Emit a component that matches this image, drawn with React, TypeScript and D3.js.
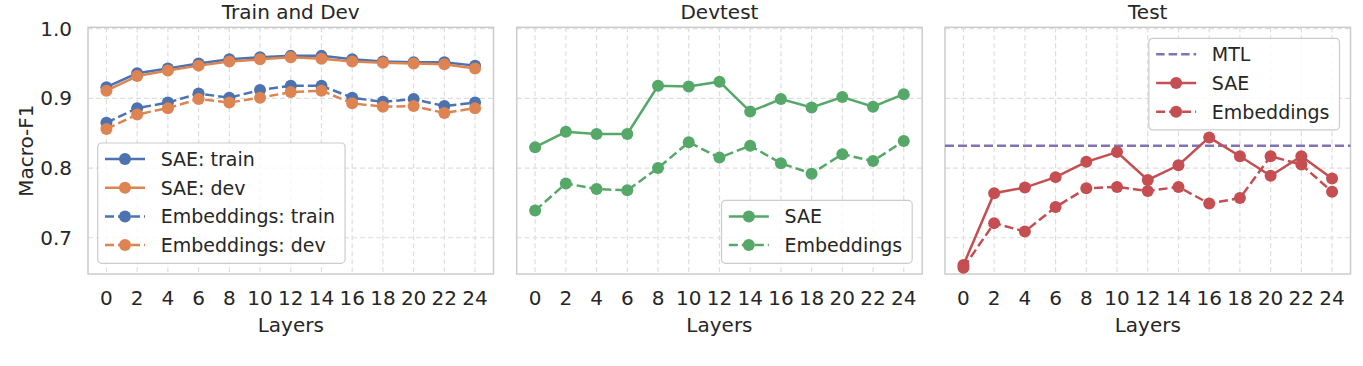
import { useEffect, useRef } from 'react';
import * as d3 from 'd3';

const layers = [0, 2, 4, 6, 8, 10, 12, 14, 16, 18, 20, 22, 24];
const yTicks = [0.7, 0.8, 0.9, 1.0];

// Train and Dev
const saeTrain = [0.916, 0.936, 0.943, 0.95, 0.956, 0.959, 0.961, 0.961, 0.956, 0.953, 0.952, 0.952, 0.947];
const saeDev = [0.911, 0.932, 0.94, 0.947, 0.953, 0.956, 0.959, 0.957, 0.953, 0.951, 0.95, 0.949, 0.943];
const embTrain = [0.865, 0.886, 0.894, 0.907, 0.901, 0.912, 0.918, 0.918, 0.901, 0.895, 0.899, 0.889, 0.894];
const embDev = [0.856, 0.877, 0.886, 0.899, 0.894, 0.901, 0.909, 0.911, 0.893, 0.888, 0.889, 0.879, 0.886];

// Devtest
const devtestSae = [0.83, 0.852, 0.849, 0.849, 0.918, 0.917, 0.924, 0.881, 0.899, 0.887, 0.902, 0.888, 0.906];
const devtestEmb = [0.739, 0.778, 0.77, 0.768, 0.8, 0.837, 0.815, 0.832, 0.807, 0.792, 0.82, 0.81, 0.839];

// Test
const testMtl = 0.832;
const testSae = [0.661, 0.764, 0.772, 0.787, 0.809, 0.823, 0.783, 0.804, 0.844, 0.817, 0.789, 0.817, 0.785];
const testEmb = [0.657, 0.721, 0.709, 0.744, 0.771, 0.773, 0.767, 0.773, 0.749, 0.757, 0.817, 0.805, 0.766];

const BLUE = '#4C72B0';
const ORANGE = '#DD8452';
const GREEN = '#55A868';
const RED = '#C44E52';
const PURPLE = '#8172B3';
const TEXT = '#262626';
const FONT = '"DejaVu Sans", sans-serif';

type Series = { label: string; values?: number[]; constant?: number; color: string; dashed: boolean; marker: boolean };
type Panel = { title: string; series: Series[]; legend: 'lower left' | 'lower right' | 'upper right' };

const panels: Panel[] = [
  {
    title: 'Train and Dev',
    legend: 'lower left',
    series: [
      { label: 'SAE: train', values: saeTrain, color: BLUE, dashed: false, marker: true },
      { label: 'SAE: dev', values: saeDev, color: ORANGE, dashed: false, marker: true },
      { label: 'Embeddings: train', values: embTrain, color: BLUE, dashed: true, marker: true },
      { label: 'Embeddings: dev', values: embDev, color: ORANGE, dashed: true, marker: true }
    ]
  },
  {
    title: 'Devtest',
    legend: 'lower right',
    series: [
      { label: 'SAE', values: devtestSae, color: GREEN, dashed: false, marker: true },
      { label: 'Embeddings', values: devtestEmb, color: GREEN, dashed: true, marker: true }
    ]
  },
  {
    title: 'Test',
    legend: 'upper right',
    series: [
      { label: 'MTL', constant: testMtl, color: PURPLE, dashed: true, marker: false },
      { label: 'SAE', values: testSae, color: RED, dashed: false, marker: true },
      { label: 'Embeddings', values: testEmb, color: RED, dashed: true, marker: true }
    ]
  }
];

const App = () => {
  const ref = useRef<SVGSVGElement | null>(null);

  useEffect(() => {
    if (!ref.current) return;
    const svg = d3.select(ref.current);
    svg.selectAll('*').remove();

    const lefts = [88, 516.7, 945];
    const panelW = 405.5;
    const top = 27.3;
    const bottom = 274;
    const fontSize = 20;
    const legendFont = 19;

    const y = d3.scaleLinear().domain([0.648, 1.002]).range([bottom, top]);

    panels.forEach((panel, pi) => {
      const x = d3.scaleLinear().domain([-1.2, 25.2]).range([lefts[pi], lefts[pi] + panelW]);
      const g = svg.append('g');

      // grid
      layers.forEach((l) => {
        g.append('line')
          .attr('x1', x(l)).attr('x2', x(l)).attr('y1', top).attr('y2', bottom)
          .attr('stroke', '#dedede').attr('stroke-width', 1.2).attr('stroke-dasharray', '5,3');
      });
      yTicks.forEach((t) => {
        g.append('line')
          .attr('x1', x.range()[0]).attr('x2', x.range()[1]).attr('y1', y(t)).attr('y2', y(t))
          .attr('stroke', '#dedede').attr('stroke-width', 1.2).attr('stroke-dasharray', '5,3');
      });

      // frame
      g.append('rect')
        .attr('x', x.range()[0]).attr('y', top)
        .attr('width', panelW).attr('height', bottom - top)
        .attr('fill', 'none').attr('stroke', '#cccccc').attr('stroke-width', 1.5);

      // x tick labels
      layers.forEach((l) => {
        g.append('text')
          .attr('x', x(l)).attr('y', 305)
          .attr('text-anchor', 'middle')
          .style('font-family', FONT).style('font-size', `${fontSize}px`).attr('fill', TEXT)
          .text(String(l));
      });

      if (pi === 0) {
        yTicks.forEach((t) => {
          g.append('text')
            .attr('x', 72).attr('y', y(t) + 7)
            .attr('text-anchor', 'end')
            .style('font-family', FONT).style('font-size', `${fontSize}px`).attr('fill', TEXT)
            .text(d3.format('.1f')(t));
        });
        g.append('text')
          .attr('transform', `translate(32.5, ${(top + bottom) / 2}) rotate(-90)`)
          .attr('text-anchor', 'middle')
          .style('font-family', FONT).style('font-size', `${fontSize}px`).attr('fill', TEXT)
          .text('Macro-F1');
      }

      g.append('text')
        .attr('x', lefts[pi] + panelW / 2).attr('y', 332)
        .attr('text-anchor', 'middle')
        .style('font-family', FONT).style('font-size', `${fontSize}px`).attr('fill', TEXT)
        .text('Layers');

      g.append('text')
        .attr('x', lefts[pi] + panelW / 2).attr('y', 19)
        .attr('text-anchor', 'middle')
        .style('font-family', FONT).style('font-size', `${fontSize}px`).attr('fill', TEXT)
        .text(panel.title);

      // series
      const line = d3.line<number>().x((_, i) => x(layers[i])).y((d) => y(d));
      panel.series.forEach((s) => {
        if (s.constant !== undefined) {
          g.append('line')
            .attr('x1', x.range()[0]).attr('x2', x.range()[1])
            .attr('y1', y(s.constant)).attr('y2', y(s.constant))
            .attr('stroke', s.color).attr('stroke-width', 2.5)
            .attr('stroke-dasharray', '9,4');
          return;
        }
        const vals = s.values || [];
        g.append('path')
          .attr('d', line(vals) || '')
          .attr('fill', 'none').attr('stroke', s.color).attr('stroke-width', 2.5)
          .attr('stroke-dasharray', s.dashed ? '9,4' : null);
        vals.forEach((v, i) => {
          g.append('circle')
            .attr('cx', x(layers[i])).attr('cy', y(v)).attr('r', 6)
            .attr('fill', s.color);
        });
      });

      // legend
      const rowH = 28.7;
      const boxH = panel.series.length * rowH + 5.5;
      const leg = g.append('g');
      const box = leg.append('rect')
        .attr('rx', 4).attr('ry', 4)
        .attr('fill', 'white').attr('fill-opacity', 0.8)
        .attr('stroke', '#cccccc').attr('stroke-width', 1.2);
      let maxW = 0;
      const items = leg.append('g');
      panel.series.forEach((s, i) => {
        const cy = 16 + i * rowH;
        items.append('line')
          .attr('x1', 7.3).attr('x2', 47.3).attr('y1', cy).attr('y2', cy)
          .attr('stroke', s.color).attr('stroke-width', 2.5)
          .attr('stroke-dasharray', s.dashed ? (s.marker ? '9,4' : '8.5,4') : null);
        if (s.marker) {
          items.append('circle').attr('cx', 27.3).attr('cy', cy).attr('r', 6).attr('fill', s.color);
        }
        const t = items.append('text')
          .attr('x', 63).attr('y', cy + 7)
          .style('font-family', FONT).style('font-size', `${legendFont}px`).attr('fill', TEXT)
          .text(s.label);
        const node = t.node();
        const w = node ? node.getComputedTextLength() : 150;
        maxW = Math.max(maxW, w);
      });
      const boxW = 63 + maxW + 10;
      box.attr('width', boxW).attr('height', boxH);
      const pl = x.range()[0];
      const pr = x.range()[1];
      let bx = pl + 9.7;
      let by = bottom - 10.7 - boxH;
      if (panel.legend === 'lower right') {
        bx = pr - 10 - boxW;
      } else if (panel.legend === 'upper right') {
        bx = pr - 11 - boxW;
        by = top + 11;
      }
      leg.attr('transform', `translate(${bx}, ${by})`);
    });
  }, []);

  return (
    <svg
      ref={ref}
      width={1363}
      height={366}
      style={{ position: 'absolute', left: 0, top: 0, background: 'white' }}
    />
  );
};

export default App;
